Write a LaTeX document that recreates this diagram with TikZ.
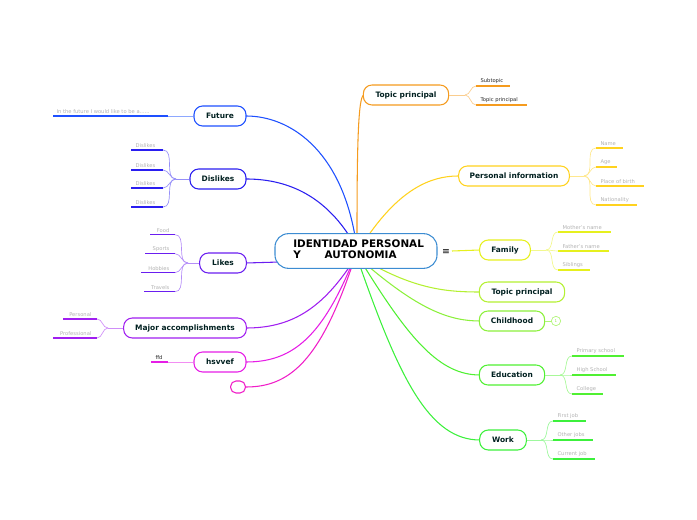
\documentclass[tikz,border=0pt]{standalone}
\usepackage{fontspec}
\setmainfont{DejaVu Sans}
\begin{document}
\begin{tikzpicture}[x=0.75pt,y=-0.75pt,
  mn/.style={draw=#1,line width=0.8pt,fill=white,rounded corners=6.5pt,minimum height=15pt,inner sep=0pt,font=\fontsize{5.6}{6}\selectfont\bfseries,text=black!75!teal},
  br/.style={draw=#1,line width=0.8pt},
  lf/.style={draw=#1,line width=1.2pt},
  fk/.style={draw=#1!50,line width=0.5pt},
  lt/.style={font=\fontsize{3.9}{4}\selectfont,text=black!30,anchor=south west,inner sep=1pt},
  dt/.style={font=\fontsize{3.9}{4}\selectfont,text=black!85,anchor=south west,inner sep=1pt}]
\useasboundingbox (0,0) rectangle (697,520);
\definecolor{cor}{HTML}{F59B1E}\definecolor{cpi}{HTML}{FFD21E}\definecolor{cfa}{HTML}{E6F01E}
\definecolor{ctp}{HTML}{B4F032}\definecolor{cch}{HTML}{8CF03C}\definecolor{ced}{HTML}{50F032}
\definecolor{cwo}{HTML}{3CF03C}\definecolor{cfu}{HTML}{1E50FF}\definecolor{cdi}{HTML}{2A1EF0}
\definecolor{cli}{HTML}{6A1EF0}\definecolor{cma}{HTML}{A01EF0}\definecolor{chs}{HTML}{E61EE6}
\definecolor{cem}{HTML}{F01EC8}\definecolor{cce}{HTML}{3C8CD2}
% connectors first
\draw[br=cfu] (355,236) .. controls (340,150) and (290,116) .. (246,116);
\draw[br=cdi] (350,237) .. controls (320,190) and (280,179) .. (246,179);
\draw[br=cli] (280,262) -- (246,263);
\draw[br=cma] (350,266) .. controls (320,310) and (290,328) .. (246,328);
\draw[br=chs] (351,266) .. controls (320,340) and (290,362) .. (246,362);
\draw[br=cem] (352,266) .. controls (320,360) and (290,387) .. (246,387);
\draw[br=cor] (357,236) .. controls (357,150) and (358,95) .. (364,95);
\draw[br=cpi] (368,236) .. controls (400,190) and (430,176) .. (458,176);
\draw[br=cfa] (452,251) -- (480,250);
\draw[br=ctp] (375,266) .. controls (420,290) and (450,292) .. (480,292);
\draw[br=cch] (368,266) .. controls (420,310) and (450,321) .. (480,321);
\draw[br=ced] (364,266) .. controls (410,340) and (440,375) .. (480,375);
\draw[br=cwo] (360,266) .. controls (400,380) and (430,440) .. (480,440);
% center
\node[draw=cce,line width=0.8pt,fill=white,rounded corners=10pt,minimum width=121.5pt,minimum height=26pt,inner sep=0pt] (c) at (356,251) {};
\node[font=\fontsize{7.8}{8}\selectfont\bfseries,align=left,anchor=north west,inner sep=0pt] (ct) at (293,240) {IDENTIDAD PERSONAL\\Y\hspace{2.3em}AUTONOMIA};
\node[font=\fontsize{7}{7}\selectfont,inner sep=0pt] (eq) at (446,252) {≡};
% main nodes
\node[mn=cor,minimum width=64pt] (tp) at (406,95) {Topic principal};
\node[mn=cpi,minimum width=83pt] (pi) at (514,176) {Personal information};
\node[mn=cfa,minimum width=38pt] (fa) at (505,250) {Family};
\node[mn=ctp,minimum width=64pt] (tp2) at (522,292) {Topic principal};
\node[mn=cch,minimum width=49pt] (ch) at (512,321) {Childhood};
\node[mn=ced,minimum width=49pt] (ed) at (512,375) {Education};
\node[mn=cwo,minimum width=35pt] (wo) at (503,440) {Work};
\node[mn=cfu,minimum width=39pt] (fu) at (220,116) {Future};
\node[mn=cdi,minimum width=42pt] (di) at (218,179) {Dislikes};
\node[mn=cli,minimum width=35pt] (li) at (223,263) {Likes};
\node[mn=cma,minimum width=92pt] (ma) at (185,328) {Major accomplishments};
\node[mn=chs,minimum width=39pt] (hs) at (220,362) {hsvvef};
\node[mn=cem,minimum width=11pt,minimum height=9pt,rounded corners=4pt] (em) at (238,387) {};
\draw[cch!70,line width=0.5pt] (ch.east) -- (552,321);
\node[circle,draw=cch!70,line width=0.5pt,minimum size=7pt,inner sep=0pt,font=\fontsize{3}{3}\selectfont,text=cch] (cn) at (556,321) {1};
% leaves left
\draw[fk=cfu] (fu.west) -- (168,116); \draw[lf=cfu] (168,116) -- (53,116);
\node[lt,anchor=south west] (l1) at (55,115) {In the future I would like to be a......};
\coordinate (fdi) at (176,179);
\draw[fk=cdi] (di.west) -- (fdi);
\foreach \y in {150,170,188,207}{\draw[fk=cdi] (fdi) to[out=180,in=0] (163,\y); \draw[lf=cdi] (163,\y) -- (131,\y); \node[lt] at (134,\y-1) {Dislikes};}
\coordinate (fli) at (188,263);
\draw[fk=cli] (li.west) -- (fli);
\foreach \y/\a/\t in {234.7/150/Food,253.7/145/Sports,272.7/141/Hobbies,291.7/144/Travels}{\draw[fk=cli] (fli) to[out=180,in=0] (175,\y); \draw[lf=cli] (175,\y) -- (\a,\y); \node[lt,anchor=south east] at (171,\y-1) {\t};}
\coordinate (fma) at (108,328);
\draw[fk=cma] (ma.west) -- (fma);
\foreach \y/\a/\t in {319/63/Personal,338/53/Professional}{\draw[fk=cma] (fma) to[out=180,in=0] (97,\y); \draw[lf=cma] (97,\y) -- (\a,\y); \node[lt,anchor=south east] at (93,\y-1) {\t};}
\draw[fk=chs] (hs.west) -- (168,362); \draw[lf=chs] (168,362) -- (151,362);
\node[dt] at (154,361) {ffd};
% leaves right
\coordinate (ftp) at (465,95);
\draw[fk=cor] (tp.east) -- (ftp);
\foreach \y/\b/\t in {86/510/Subtopic,105/527/Topic principal}{\draw[fk=cor] (ftp) to[out=0,in=180] (476,\y); \draw[lf=cor] (476,\y) -- (\b,\y); \node[dt] at (479,\y-1) {\t};}
\coordinate (fpi) at (584,176);
\draw[fk=cpi] (pi.east) -- (fpi);
\foreach \y/\b/\t in {148/623/Name,167/617/Age,186/644/Place of birth,205/637/Nationality}{\draw[fk=cpi] (fpi) to[out=0,in=180] (596,\y); \draw[lf=cpi] (596,\y) -- (\b,\y); \node[lt] at (599,\y-1) {\t};}
\coordinate (ffa) at (546,250);
\draw[fk=cfa] (fa.east) -- (ffa);
\foreach \y/\b/\t in {232/611/Mother's name,251/609/Father's name,270/590/Siblings}{\draw[fk=cfa] (ffa) to[out=0,in=180] (558,\y); \draw[lf=cfa] (558,\y) -- (\b,\y); \node[lt] at (561,\y-1) {\t};}
\coordinate (fed) at (560,375);
\draw[fk=ced] (ed.east) -- (fed);
\foreach \y/\b/\t in {356/624/Primary school,375/616/High School,394/603/College}{\draw[fk=ced] (fed) to[out=0,in=180] (572,\y); \draw[lf=ced] (572,\y) -- (\b,\y); \node[lt] at (575,\y-1) {\t};}
\coordinate (fwo) at (541,440);
\draw[fk=cwo] (wo.east) -- (fwo);
\foreach \y/\b/\t in {421/586/First job,440/593/Other jobs,459/595/Current job}{\draw[fk=cwo] (fwo) to[out=0,in=180] (553,\y); \draw[lf=cwo] (553,\y) -- (\b,\y); \node[lt] at (556,\y-1) {\t};}
\end{tikzpicture}
\end{document}
